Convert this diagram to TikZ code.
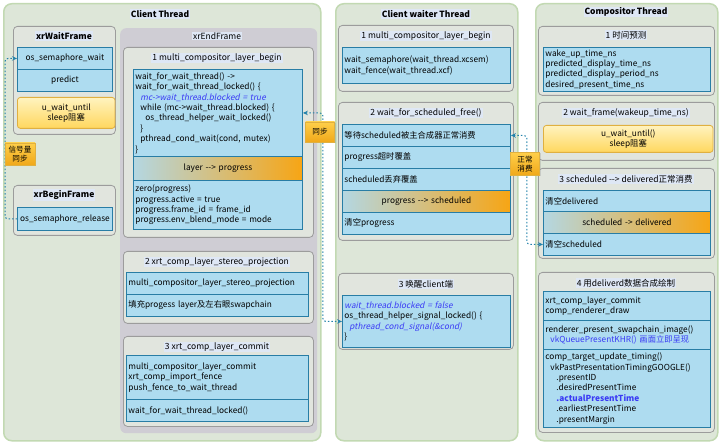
\documentclass[tikz,border=0pt]{standalone}
\usepackage{fontspec}
\setmainfont{Noto Sans CJK SC}[AutoFakeSlant=0.2]
\usetikzlibrary{positioning,backgrounds,arrows.meta,shadows}
\definecolor{pnlfill}{HTML}{DDE6D8}
\definecolor{pnlline}{HTML}{C2D9B2}
\definecolor{grpfill}{HTML}{E1E5DE}
\definecolor{grpline}{HTML}{9C9C9C}
\definecolor{endfill}{HTML}{CFCDD4}
\definecolor{blkfill}{HTML}{AEDCF0}
\definecolor{blkline}{HTML}{287DA5}
\definecolor{ttlfill}{HTML}{DEE7F5}
\definecolor{connc}{HTML}{2382AA}
\definecolor{gradl}{HTML}{B4D7E2}
\definecolor{gradr}{HTML}{F7A514}
\definecolor{ylwtop}{HTML}{FFF3BF}
\definecolor{ylwbot}{HTML}{FFD75E}
\definecolor{ylwline}{HTML}{E0B040}
\definecolor{tagtop}{HTML}{FFCF4A}
\definecolor{tagbot}{HTML}{F0A81A}
\definecolor{codeblue}{HTML}{3A3AF5}

\begin{document}
\begin{tikzpicture}[x=1pt,y=-1pt,
  panel/.style={draw=pnlline, fill=pnlfill, line width=1.5pt, rounded corners=8pt, anchor=north west, inner sep=0pt},
  endf/.style={fill=endfill, rounded corners=6pt, anchor=north west, inner sep=0pt},
  grp/.style={draw=grpline, fill=grpfill, line width=0.8pt, rounded corners=4pt, anchor=north west, inner sep=0pt},
  hdr/.style={fill=ttlfill, inner sep=1pt, font=\bfseries\fontsize{8.5}{10}\selectfont},
  ttl/.style={fill=ttlfill, inner sep=1pt, font=\fontsize{8.5}{10}\selectfont},
  blk/.style={draw=blkline, fill=blkfill, line width=0.9pt, anchor=north west, inner xsep=2pt, inner ysep=1.5pt, align=left, font=\fontsize{8.3}{10.4}\selectfont},
  grad/.style={blk, left color=gradl, right color=gradr, align=center},
  ylw/.style={draw=ylwline, top color=ylwtop, bottom color=ylwbot, line width=0.8pt, rounded corners=3pt, anchor=north west, align=center, font=\fontsize{8.3}{10.4}\selectfont},
  tag/.style={draw=ylwline, top color=tagtop, bottom color=tagbot, line width=0.5pt, inner sep=1pt, align=center, font=\fontsize{7.6}{9.5}\selectfont, drop shadow={opacity=0.25, shadow xshift=1pt, shadow yshift=-1pt}},
  conn/.style={draw=connc, line width=1pt, dash pattern=on 1.5pt off 2pt, rounded corners=3pt}]
\useasboundingbox (0,0) rectangle (720,443);

% threads
\node[panel, minimum width=317pt, minimum height=437pt] (client) at (3,3) {};
\node[panel, minimum width=182pt, minimum height=437pt] (waiter) at (335,3) {};
\node[panel, minimum width=182pt, minimum height=437pt] (comp) at (535,3) {};
\node[hdr] (tclient) at (160,14) {Client Thread};
\node[hdr] (twaiter) at (426,14) {Client waiter Thread};
\node[hdr] (tcomp) at (626,12) {Compositor Thread};

% client thread
\node[grp, minimum width=102pt, minimum height=108pt] (waitframe) at (13,26) {};
\node[hdr] at (64,36) {xrWaitFrame};
\node[blk, text width=91pt, minimum height=22pt, align=center] (oswait) at (17,47) {os\_semaphore\_wait};
\node[blk, text width=91pt, minimum height=22pt, align=center] (predict) at (17,69) {predict};
\node[ylw, text width=91pt, minimum height=31pt] (uwait) at (17,97) {u\_wait\_until\\sleep阻塞};
\node[grp, minimum width=102pt, minimum height=50pt] (beginframe) at (13,185) {};
\node[hdr] at (64,195) {xrBeginFrame};
\node[blk, text width=91pt, minimum height=23pt, align=center] (osrel) at (17,207) {os\_semaphore\_release};

\node[endf, minimum width=197pt, minimum height=405pt] (endframe) at (120,28) {};
\node[ttl] at (217,36) {xrEndFrame};
\node[grp, minimum width=190pt, minimum height=190pt] (lbegin) at (123,47) {};
\node[ttl] at (217,58) {1 multi\_compositor\_layer\_begin};
\node[blk, text width=165pt, minimum height=87pt] (code) at (133,69) {wait\_for\_wait\_thread() ->\\
wait\_for\_wait\_thread\_locked() \{\\
\hspace*{5pt}\textcolor{codeblue}{\itshape mc->wait\_thread.blocked = true}\\
\hspace*{5pt}while (mc->wait\_thread.blocked) \{\\
\hspace*{10pt}os\_thread\_helper\_wait\_locked()\\
\hspace*{5pt}\}\\
\hspace*{5pt}pthread\_cond\_wait(cond, mutex)\\
\}};
\node[grad, text width=165pt, minimum height=24pt] (l2p) at (133,156) {layer -{}-> progress};
\node[blk, text width=165pt, minimum height=49pt] (zero) at (133,180) {zero(progress)\\
progress.active = true\\
progress.frame\_id = frame\_id\\
progress.env\_blend\_mode = mode};

\node[grp, minimum width=190pt, minimum height=72pt] (stereo) at (123,251) {};
\node[ttl] at (217,262) {2 xrt\_comp\_layer\_stereo\_projection};
\node[blk, text width=178pt, minimum height=22pt] (mcstereo) at (126,272) {multi\_compositor\_layer\_stereo\_projection};
\node[blk, text width=178pt, minimum height=22pt] (fill) at (126,294) {填充progess layer及左右眼swapchain};

\node[grp, minimum width=190pt, minimum height=90pt] (commit) at (123,336) {};
\node[ttl] at (217,347) {3 xrt\_comp\_layer\_commit};
\node[blk, text width=178pt, minimum height=44pt] (mccommit) at (126,355) {multi\_compositor\_layer\_commit\\
xrt\_comp\_import\_fence\\
push\_fence\_to\_wait\_thread};
\node[blk, text width=178pt, minimum height=22pt] (waitlocked) at (126,399) {wait\_for\_wait\_thread\_locked()};

% client waiter thread
\node[grp, minimum width=175pt, minimum height=66pt] (wbegin) at (338,25) {};
\node[ttl] at (426,36) {1 multi\_compositor\_layer\_begin};
\node[blk, text width=164pt, minimum height=36pt] (waitsem) at (342,47) {wait\_semaphore(wait\_thread.xcsem)\\
wait\_fence(wait\_thread.xcf)};

\node[grp, minimum width=175pt, minimum height=138pt] (wfree) at (338,102) {};
\node[ttl] at (426,113) {2 wait\_for\_scheduled\_free()};
\node[blk, text width=164pt, minimum height=22pt] (waitsch) at (342,124) {等待scheduled被主合成器正常消费};
\node[blk, text width=164pt, minimum height=22pt] (ptimeout) at (342,146) {progress超时覆盖};
\node[blk, text width=164pt, minimum height=22pt] (sdrop) at (342,168) {scheduled丢弃覆盖};
\node[grad, text width=164pt, minimum height=22pt] (p2s) at (342,190) {progress -{}-> scheduled};
\node[blk, text width=164pt, minimum height=22pt] (clrprog) at (342,212) {清空progress};

\node[grp, minimum width=175pt, minimum height=76pt] (wwake) at (338,273) {};
\node[ttl] at (426,284) {3 唤醒client端};
\node[blk, text width=164pt, minimum height=52pt] (wake) at (342,295) {\textcolor{codeblue}{\itshape wait\_thread.blocked = false}\\
os\_thread\_helper\_signal\_locked() \{\\
\hspace*{5pt}\textcolor{codeblue}{\itshape pthread\_cond\_signal(\&cond)}\\
\}};

% compositor thread
\node[grp, minimum width=176pt, minimum height=69pt] (predgrp) at (538,26) {};
\node[ttl] at (626,35) {1 时间预测};
\node[blk, text width=163pt, minimum height=44pt] (times) at (543,47) {wake\_up\_time\_ns\\
predicted\_display\_time\_ns\\
predicted\_display\_period\_ns\\
desired\_present\_time\_ns};

\node[grp, minimum width=176pt, minimum height=58pt] (wframe) at (538,102) {};
\node[ttl] at (626,113) {2 wait\_frame(wakeup\_time\_ns)};
\node[ylw, text width=163pt, minimum height=27pt] (sleep) at (543,125) {u\_wait\_until()\\sleep阻塞};

\node[grp, minimum width=176pt, minimum height=90pt] (consume) at (538,168) {};
\node[ttl] at (626,179) {3 scheduled -{}-> delivered正常消费};
\node[blk, text width=163pt, minimum height=21pt] (clrdel) at (543,190) {清空delivered};
\node[grad, text width=163pt, minimum height=22pt] (s2d) at (543,211) {scheduled -> delivered};
\node[blk, text width=163pt, minimum height=22pt] (clrsch) at (543,233) {清空scheduled};

\node[grp, minimum width=176pt, minimum height=160pt] (draw) at (538,272) {};
\node[ttl] at (626,283) {4 用deliverd数据合成绘制};
\node[blk, text width=163pt, minimum height=29pt] (render) at (543,291) {xrt\_comp\_layer\_commit\\
comp\_renderer\_draw};
\node[blk, text width=163pt, minimum height=29pt] (present) at (543,320) {renderer\_present\_swapchain\_image()\\
\hspace*{5pt}\textcolor{codeblue}{vkQueuePresentKHR() 画面立即呈现}};
\node[blk, text width=163pt, minimum height=78pt] (timing) at (543,349) {comp\_target\_update\_timing()\\
\hspace*{5pt}vkPastPresentationTimingGOOGLE()\\
\hspace*{11pt}.presentID\\
\hspace*{11pt}.desiredPresentTime\\
\hspace*{11pt}\textcolor{codeblue}{\bfseries .actualPresentTime}\\
\hspace*{11pt}.earliestPresentTime\\
\hspace*{11pt}.presentMargin};

% connectors
\draw[conn, -{Stealth[length=5pt,width=4.5pt]}] (osrel.west) -- ++(-12,0) |- (oswait.west);
\draw[conn, {Stealth[length=5pt,width=4.5pt]}-{Stealth[length=5pt,width=4.5pt]}] (code.east) -- ++(20,0) |- (wake.west);
\draw[conn, {Stealth[length=5pt,width=4.5pt]}-{Stealth[length=5pt,width=4.5pt]}] (waitsch.east) -- ++(16,0) |- (clrsch.west);
\node[tag, minimum width=30pt, minimum height=22pt] (tsem) at (20,154) {信号量\\同步};
\node[tag, minimum width=29pt, minimum height=20pt] (tsync) at (320,132) {同步};
\node[tag, minimum width=29pt, minimum height=23pt] (tcons) at (525,164) {正常\\消费};
\end{tikzpicture}
\end{document}
